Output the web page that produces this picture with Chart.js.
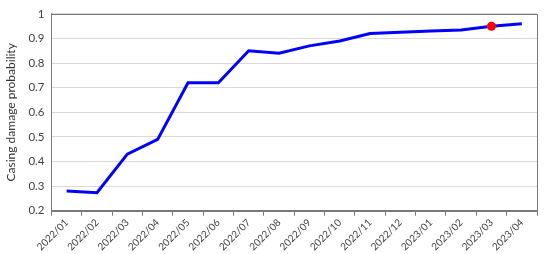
<!DOCTYPE html>
<html>
<head>
<meta charset="utf-8">
<script src="https://cdn.jsdelivr.net/npm/chart.js@4"></script>
<style>
  html, body { margin: 0; padding: 0; background: #fff; }
  #wrap { width: 550px; height: 254px; }
</style>
</head>
<body>
<div id="wrap"><canvas id="chart" width="550" height="254"></canvas></div>
<script>
// monthly labels and probability values
const months = ['2022/01', '2022/02', '2022/03', '2022/04', '2022/05', '2022/06', '2022/07', '2022/08',
  '2022/09', '2022/10', '2022/11', '2022/12', '2023/01', '2023/02', '2023/03', '2023/04'];
const probability = [0.28, 0.273, 0.43, 0.49, 0.72, 0.72, 0.85, 0.84, 0.87, 0.89, 0.92, 0.925, 0.93, 0.935, 0.95, 0.96];
const highlightMonth = '2023/03';
const yTicks = [0.2, 0.3, 0.4, 0.5, 0.6, 0.7, 0.8, 0.9, 1];

const font = 'Lato, "Open Sans", sans-serif';
const frameColor = '#7a7a7a';

// box around the plot area (Excel-style frame)
const frame = {
  id: 'frame',
  afterDraw(chart) {
    const { ctx, chartArea: a } = chart;
    ctx.save();
    ctx.strokeStyle = frameColor;
    ctx.lineWidth = 1;
    ctx.strokeRect(Math.round(a.left) + 0.5, Math.round(a.top) + 0.5, Math.round(a.right - a.left), Math.round(a.bottom - a.top));
    ctx.restore();
  }
};

const radii = months.map(m => m === highlightMonth ? 4.5 : 0);

new Chart(document.getElementById('chart'), {
  type: 'line',
  data: {
    labels: months,
    datasets: [{
      data: probability,
      borderColor: '#0000ff',
      borderWidth: 3,
      pointRadius: radii,
      pointHoverRadius: radii,
      pointBackgroundColor: '#ff0000',
      pointBorderWidth: 0,
      tension: 0
    }]
  },
  options: {
    responsive: false,
    animation: false,
    layout: { padding: { top: 8, right: 13, left: 4, bottom: 0 } },
    plugins: { legend: { display: false }, tooltip: { enabled: false } },
    scales: {
      x: {
        offset: true,
        grid: { offset: true, drawOnChartArea: false, tickLength: 5, color: frameColor },
        border: { color: frameColor },
        ticks: { minRotation: 45, maxRotation: 45, autoSkip: false, color: '#404040', font: { family: font, size: 10 }, padding: 1 }
      },
      y: {
        min: 0.2,
        max: 1,
        afterBuildTicks: axis => { axis.ticks = yTicks.map(v => ({ value: v })); },
        grid: { color: '#d9d9d9', drawTicks: false },
        border: { color: frameColor },
        ticks: { color: '#404040', font: { family: font, size: 11.5 }, padding: 7, callback: v => String(v) },
        title: { display: true, text: 'Casing damage probability', color: '#333', font: { family: font, size: 12 }, padding: { top: 0, bottom: 3 } }
      }
    }
  },
  plugins: [frame]
});
</script>
</body>
</html>
